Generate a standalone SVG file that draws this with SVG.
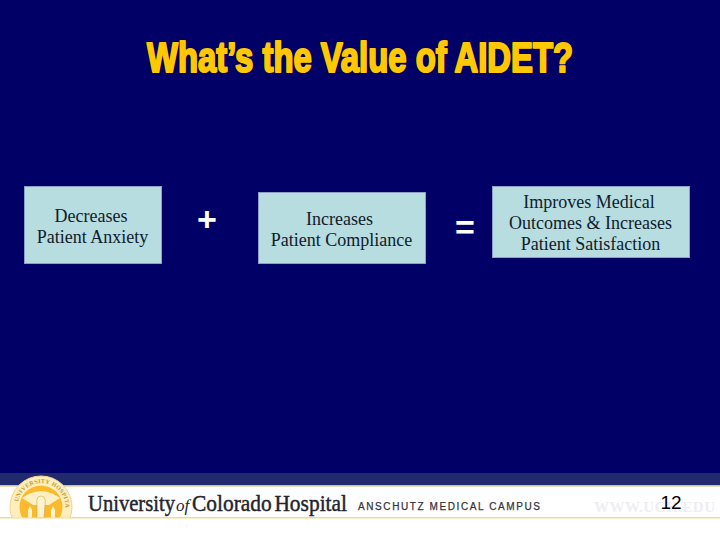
<svg xmlns="http://www.w3.org/2000/svg" width="720" height="540" viewBox="0 0 720 540">
<style>
.box{fill:#b7dde1;stroke:#8f9fc0;stroke-width:1}
.t{font-family:"Liberation Serif",serif;font-size:18px;fill:#10202a;text-anchor:middle}
.op{font-family:"Liberation Sans",sans-serif;font-weight:bold;fill:#fff;text-anchor:middle}
.logo{font-family:"Liberation Serif",serif;fill:#23242c;stroke:#23242c;stroke-width:.45}
</style>
<defs>
<clipPath id="sealclip"><rect x="0" y="470" width="100" height="47.500"/></clipPath>
<path id="sealarc" d="M17.500 507A24 24 0 1 1 65.500 507"/>
</defs>
<rect width="720" height="540" fill="#000066"/>
<g id="footer">
<rect x="0" y="473" width="720" height="12.500" fill="#202a6c"/>
<rect x="0" y="486" width="720" height="54" fill="#fff"/>
<rect x="0" y="485" width="720" height="1.500" fill="#d9bd78"/>
<rect x="0" y="517" width="720" height="1.500" fill="#f0dc8e"/>
<g clip-path="url(#sealclip)">
<circle cx="41" cy="507" r="31" fill="#fdeebd" stroke="#f3d488" stroke-width="1"/>
<circle cx="41" cy="507" r="21.500" fill="#fbb92c"/>
<path d="M22 498q8-6 19-7q11 1 19 7l-11 7h-16z" fill="#fff0c4"/>
<path d="M37 518v-13q-1-5 1-8q3-2 6 0q2 3 1 8l-1 13z" fill="#fff3d0" stroke="#c49a3c" stroke-width=".5"/>
<path d="M28 518v-8l2-4l2 4v8zM51 518v-8l2-4l2 4v8z" fill="#fff3d0"/>
</g>
<text font-family="Liberation Serif,serif" font-size="6" font-weight="bold" fill="#c79632" letter-spacing=".3"><textPath href="#sealarc" startOffset="5">UNIVERSITY HOSPITAL</textPath></text>
<text class="logo" x="88" y="511" font-size="24" textLength="87" lengthAdjust="spacingAndGlyphs">University</text>
<text x="176" y="511" font-family="Liberation Serif,serif" font-size="17" font-style="italic" fill="#23242c">of</text>
<text class="logo" x="192" y="511" font-size="24" textLength="155" lengthAdjust="spacingAndGlyphs" word-spacing="-3">Colorado Hospital</text>
<text x="358" y="510" font-family="Liberation Sans,sans-serif" font-size="10" fill="#33343c" stroke="#33343c" stroke-width=".25" textLength="182" lengthAdjust="spacing">ANSCHUTZ MEDICAL CAMPUS</text>
<text x="594" y="512" font-family="Liberation Serif,serif" font-size="15" font-weight="bold" fill="#eeeef2" textLength="121" lengthAdjust="spacing">WWW.UCH.EDU</text>
<text x="671" y="509" font-family="Liberation Sans,sans-serif" font-size="19" fill="#000" text-anchor="middle">12</text>
</g>
<g id="title">
<text x="360" y="72" font-family="Liberation Sans,sans-serif" font-size="43" font-weight="bold" fill="#ffc800" stroke="#ffc800" stroke-width="2.200" stroke-linejoin="round" text-anchor="middle" textLength="426" lengthAdjust="spacingAndGlyphs">What’s the Value of AIDET?</text>
</g>
<g id="node-anxiety">
<rect class="box" x="24.500" y="186.500" width="137" height="77"/>
<text class="t" x="91" y="221.500">Decreases</text>
<text class="t" x="92.500" y="242.500">Patient Anxiety</text>
</g>
<g id="plus"><text class="op" x="207" y="231" font-size="34">+</text></g>
<g id="node-compliance">
<rect class="box" x="258.500" y="192.500" width="167" height="71"/>
<text class="t" x="339.500" y="224.500">Increases</text>
<text class="t" x="341.500" y="245.500">Patient Compliance</text>
</g>
<g id="equals"><text class="op" x="465" y="239" font-size="34">=</text></g>
<g id="node-outcomes">
<rect class="box" x="492.500" y="186.500" width="197" height="71"/>
<text class="t" x="589" y="207.500">Improves Medical</text>
<text class="t" x="590.500" y="228.500">Outcomes &amp; Increases</text>
<text class="t" x="590.500" y="250">Patient Satisfaction</text>
</g>
<g id="connectors"/>
</svg>
